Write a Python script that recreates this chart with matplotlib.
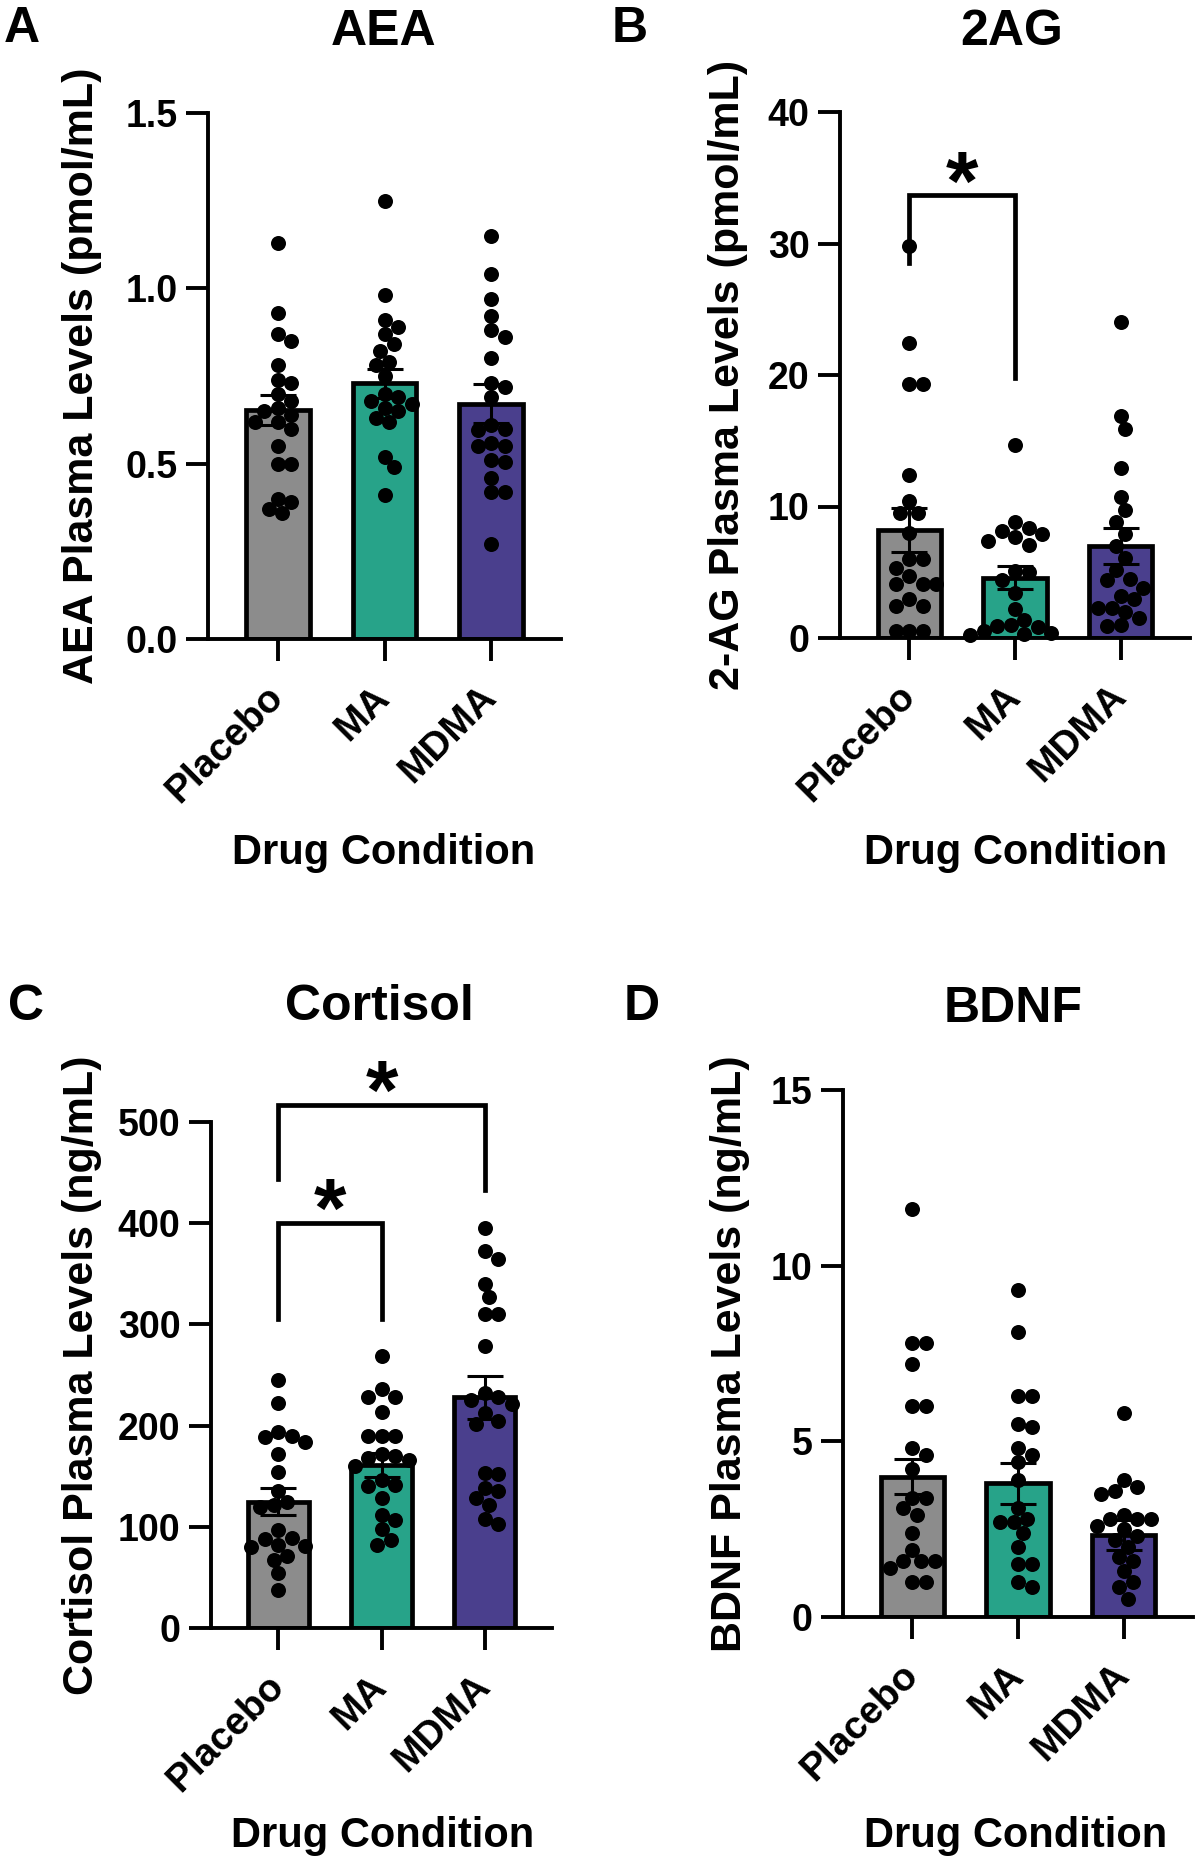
import matplotlib
matplotlib.use("Agg")
import matplotlib.pyplot as plt
import matplotlib.transforms as mtransforms
import numpy as np

plt.rcParams['font.family'] = ['Liberation Sans', 'DejaVu Sans']
plt.rcParams['font.weight'] = 'bold'

# ---------------- data ----------------
groups = ['Placebo', 'MA', 'MDMA']
bar_colors = ['#8c8c8c', '#27a389', '#4a3f8d']

aea_placebo = [1.13, 0.93, 0.87, 0.85, 0.78, 0.74, 0.73, 0.70, 0.68, 0.66, 0.65,
               0.64, 0.62, 0.62, 0.60, 0.55, 0.50, 0.50, 0.40, 0.39, 0.37, 0.36]
aea_ma = [1.25, 0.98, 0.91, 0.89, 0.87, 0.84, 0.82, 0.79, 0.78, 0.75, 0.70,
          0.69, 0.68, 0.67, 0.66, 0.65, 0.63, 0.62, 0.52, 0.49, 0.41]
aea_mdma = [1.15, 1.04, 0.97, 0.92, 0.88, 0.86, 0.80, 0.73, 0.72, 0.69, 0.61,
            0.60, 0.595, 0.56, 0.55, 0.55, 0.51, 0.505, 0.46, 0.42, 0.42, 0.27]
aea_mean = [0.652, 0.729, 0.671]
aea_sem = [0.043, 0.042, 0.055]

ag_placebo = [29.8, 22.4, 19.3, 19.3, 12.4, 10.4, 9.5, 9.5, 8.0, 6.0, 6.0,
              5.3, 4.7, 4.1, 4.1, 4.1, 3.0, 2.4, 2.4, 0.5, 0.5, 0.5]
ag_ma = [14.7, 8.8, 8.4, 8.1, 7.9, 7.7, 7.4, 7.1, 5.1, 5.0, 4.4,
         3.4, 2.2, 1.4, 0.9, 0.8, 0.4, 0.3, 0.2, 0.5, 1.0]
ag_mdma = [24.0, 16.9, 15.9, 12.9, 10.7, 9.7, 8.8, 7.9, 7.0, 6.1, 5.2,
           4.5, 4.4, 3.8, 3.2, 2.3, 2.3, 1.5, 0.9, 1.0, 2.0, 3.0]
ag_mean = [8.2, 4.6, 7.0]
ag_sem = [1.65, 0.9, 1.4]

cort_placebo = [245, 222, 194, 189, 190, 184, 172, 154, 135, 125, 122,
                120, 97, 89, 88, 82, 81, 80, 71, 67, 54, 38]
cort_ma = [269, 236, 228, 228, 213, 190, 190, 190, 172, 170, 168,
           166, 160, 146, 141, 140, 128, 112, 107, 98, 87, 82]
cort_mdma = [395, 373, 365, 340, 327, 310, 310, 279, 232, 228, 225, 221,
             212, 205, 202, 153, 152, 138, 135, 128, 122, 108, 103]
cort_mean = [125, 161, 228]
cort_sem = [13, 12, 21]

bdnf_placebo = [11.6, 7.8, 7.8, 7.2, 6.0, 6.0, 4.8, 4.6, 4.2, 3.4, 3.4,
                3.1, 2.9, 2.4, 1.9, 1.6, 1.6, 1.6, 1.4, 1.0, 1.0]
bdnf_ma = [9.3, 8.1, 6.3, 6.3, 5.5, 5.4, 4.8, 4.6, 4.4, 3.9, 3.1,
           2.8, 2.7, 2.7, 2.4, 2.0, 1.5, 1.5, 1.0, 0.85]
bdnf_mdma = [5.8, 3.9, 3.7, 3.6, 3.5, 2.9, 2.8, 2.8, 2.8, 2.6, 2.5,
             2.3, 2.2, 2.0, 1.7, 1.6, 1.3, 1.0, 0.85, 0.5]
bdnf_mean = [3.99, 3.8, 2.33]
bdnf_sem = [0.5, 0.57, 0.42]

aea_ticks = [0.0, 0.5, 1.0, 1.5]
ag_ticks = [0, 10, 20, 30, 40]
cort_ticks = [0, 100, 200, 300, 400, 500]
bdnf_ticks = [0, 5, 10, 15]

# significance brackets: (x_left, x_right, y_top, y_left_end, y_right_end, y_star)
ag_brackets = [(0, 1, 33.7, 28.5, 19.8, 36.2)]
cort_brackets = [(0, 1, 400, 305, 305, 434), (0, 2, 517, 444, 433, 551)]

# ---------------- figure ----------------
W, H = 1200, 1863
fig = plt.figure(figsize=(W / 100, H / 100), dpi=100)


def rect(l, r, b, t):
    return [l / W, 1 - b / H, (r - l) / W, (b - t) / H]


panels = [
    dict(rect=rect(208, 561, 639, 113), data=[aea_placebo, aea_ma, aea_mdma],
         mean=aea_mean, sem=aea_sem, ticks=aea_ticks, fmt='{:.1f}',
         ylabel='AEA Plasma Levels (pmol/mL)', title='AEA', letter='A',
         title_xy=(384, 45), letter_xy=(4, 42), xlab_xy=(384, 864),
         ylab_x=-0.30, brackets=[]),
    dict(rect=rect(840, 1190, 638, 112), data=[ag_placebo, ag_ma, ag_mdma],
         mean=ag_mean, sem=ag_sem, ticks=ag_ticks, fmt='{:d}',
         ylabel='2-AG Plasma Levels (pmol/mL)', title='2AG', letter='B',
         title_xy=(1012, 45), letter_xy=(612, 42), xlab_xy=(1016, 864),
         ylab_x=-0.262, brackets=ag_brackets),
    dict(rect=rect(211, 552, 1628, 1122), data=[cort_placebo, cort_ma, cort_mdma],
         mean=cort_mean, sem=cort_sem, ticks=cort_ticks, fmt='{:d}',
         ylabel='Cortisol Plasma Levels (ng/mL)', title='Cortisol', letter='C',
         title_xy=(379, 1020), letter_xy=(8, 1020), xlab_xy=(383, 1847),
         ylab_x=-0.32, brackets=cort_brackets),
    dict(rect=rect(843, 1193, 1617, 1090), data=[bdnf_placebo, bdnf_ma, bdnf_mdma],
         mean=bdnf_mean, sem=bdnf_sem, ticks=bdnf_ticks, fmt='{:d}',
         ylabel='BDNF Plasma Levels (ng/mL)', title='BDNF', letter='D',
         title_xy=(1013, 1022), letter_xy=(624, 1020), xlab_xy=(1016, 1847),
         ylab_x=-0.265, brackets=[]),
]

DOT_PX = 15.0
STAR_FS = 60


def swarm_x(ax, x0, vals, dpx):
    trans = ax.transData
    inv = trans.inverted()
    xc = trans.transform((x0, 0))[0]
    ys = [trans.transform((x0, v))[1] for v in vals]
    placed = []
    xs = [0.0] * len(vals)
    order = sorted(range(len(vals)), key=lambda i: -vals[i])
    step = dpx * 0.3
    for i in order:
        y = ys[i]
        chosen = 0.0
        found = False
        for k in range(0, 60):
            for sgn in ([0] if k == 0 else [1, -1]):
                dx = sgn * k * step
                if all((dx - px) ** 2 + (y - py) ** 2 >= (dpx * 0.9) ** 2
                       for px, py in placed):
                    chosen = dx
                    found = True
                    break
            if found:
                break
        placed.append((chosen, y))
        xs[i] = inv.transform((xc + chosen, y))[0]
    return xs


for p in panels:
    ax = fig.add_axes(p['rect'])
    ax.set_xlim(-0.655, 2.655)
    ax.set_ylim(p['ticks'][0], p['ticks'][-1])
    for s in ['top', 'right']:
        ax.spines[s].set_visible(False)
    for s in ['left', 'bottom']:
        ax.spines[s].set_linewidth(2.8)
    ax.tick_params(axis='both', width=2.8, length=16, labelsize=27, direction='out')
    ax.tick_params(axis='y', pad=6)
    ax.tick_params(axis='x', pad=22)
    ax.set_yticks(p['ticks'])
    ax.set_yticklabels([p['fmt'].format(t) for t in p['ticks']], fontweight='bold')
    xpos = np.arange(len(groups))
    ax.set_xticks(xpos)
    ax.set_xticklabels(groups, rotation=45, ha='right', va='center',
                       rotation_mode='anchor', fontweight='bold', fontsize=28)
    ax.bar(xpos, p['mean'], width=0.6, color=bar_colors, edgecolor='black',
           linewidth=3.4, zorder=2)
    ax.errorbar(xpos, p['mean'], yerr=p['sem'], fmt='none', ecolor='black',
                elinewidth=2.2, capsize=13, capthick=2.2, zorder=3)
    for gi, vals in enumerate(p['data']):
        xs = swarm_x(ax, gi, vals, DOT_PX)
        ax.scatter(xs, vals, s=(DOT_PX * 0.72) ** 2, color='black', zorder=4,
                   linewidths=0, clip_on=False)
    star_tr = mtransforms.offset_copy(ax.transData, fig=fig, x=0,
                                      y=-0.58 * STAR_FS, units='points')
    for (x1, x2, yt, yl, yr, ys) in p['brackets']:
        ax.plot([x1, x1, x2, x2], [yl, yt, yt, yr], color='black', lw=3.4,
                solid_joinstyle='miter', clip_on=False, zorder=5)
        ax.text((x1 + x2) / 2, ys, '*', ha='center', va='baseline',
                fontsize=STAR_FS, fontweight='bold', clip_on=False,
                transform=star_tr)
    ax.set_ylabel(p['ylabel'], fontsize=31, fontweight='bold')
    ax.yaxis.set_label_coords(p['ylab_x'], 0.5)
    fig.text(p['title_xy'][0] / W, 1 - p['title_xy'][1] / H, p['title'],
             ha='center', va='baseline', fontsize=36, fontweight='bold')
    fig.text(p['letter_xy'][0] / W, 1 - p['letter_xy'][1] / H, p['letter'],
             ha='left', va='baseline', fontsize=36, fontweight='bold')
    fig.text(p['xlab_xy'][0] / W, 1 - p['xlab_xy'][1] / H, 'Drug Condition',
             ha='center', va='baseline', fontsize=30, fontweight='bold')

fig.savefig('out.png', dpi=100, facecolor='white')
